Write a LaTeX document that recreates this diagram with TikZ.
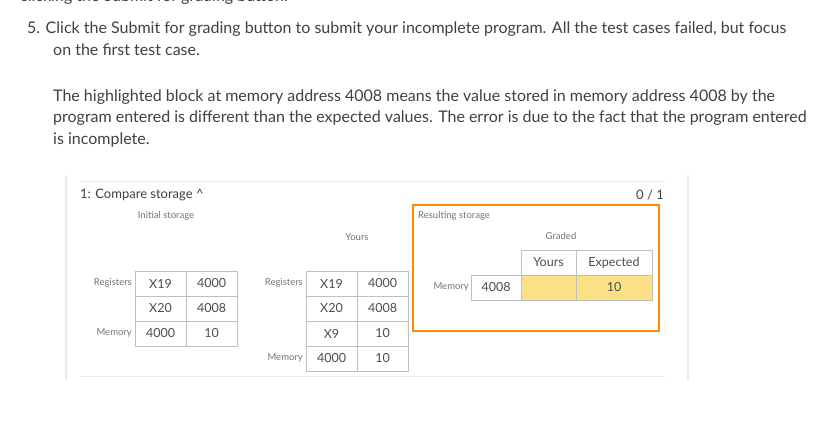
\documentclass[tikz,border=0pt]{standalone}
\usepackage{fontspec}
\setmainfont{Lato}
\begin{document}
\begin{tikzpicture}[x=1pt,y=-1pt,
  txt/.style={text=black!75, font=\fontsize{16}{18}\selectfont, anchor=west, inner sep=0},
  lbl/.style={text=black!55, font=\fontsize{9.5}{11}\selectfont, inner sep=0},
  cell/.style={draw=black!25, line width=0.8pt, minimum height=25pt, inner sep=0, text=black!70, font=\fontsize{12.5}{14}\selectfont},
  c51/.style={cell, minimum width=51pt},
  hl/.style={fill=yellow!55!orange!45}]
\useasboundingbox (0,0) rectangle (820,422);
\clip (0,0) rectangle (820,422);
\node[txt] (t0) at (20,-3) {clicking the Submit for grading button.};
\node[txt] (t1) at (27,29) {5. Click the Submit for grading button to submit your incomplete program. All the test cases failed, but focus};
\node[txt] (t2) at (53,50) {on the first test case.};
\node[txt] (t3) at (53,97) {The highlighted block at memory address 4008 means the value stored in memory address 4008 by the};
\node[txt] (t4) at (53,118) {program entered is different than the expected values. The error is due to the fact that the program entered};
\node[txt] (t5) at (53,140) {is incomplete.};
% card
\draw[black!8, line width=1.5pt] (66,175) -- (66,380);
\draw[black!8, line width=1.5pt] (688,175) -- (688,380);
\draw[black!8] (80,181) -- (665,181);
\draw[black!8] (80,376) -- (665,376);
\node[txt, font=\fontsize{13}{15}\selectfont] (h) at (80,195) {1: Compare storage \^{}};
\node[txt, anchor=east, font=\fontsize{13}{15}\selectfont] (sc) at (664,195) {0 / 1};
\node[lbl] (is) at (166,216) {Initial storage};
% table 1
\foreach \r/\a/\b in {0/X19/4000,1/X20/4008,2/4000/10}{
  \node[c51] (a\r1) at (160.5,283.5+25*\r) {\a};
  \node[c51] (a\r2) at (211.5,283.5+25*\r) {\b};
}
\node[lbl, anchor=east] (r1) at (132,283) {Registers};
\node[lbl, anchor=east] (m1) at (132,333) {Memory};
% table 2
\node[lbl] (y2) at (357,237) {Yours};
\foreach \r/\a/\b in {0/X19/4000,1/X20/4008,2/X9/10,3/4000/10}{
  \node[c51] (b\r1) at (331.5,283.5+25*\r) {\a};
  \node[c51] (b\r2) at (382.5,283.5+25*\r) {\b};
}
\node[lbl, anchor=east] (r2) at (303,283) {Registers};
\node[lbl, anchor=east] (m2) at (303,358) {Memory};
% resulting
\draw[orange!90!yellow, line width=2.5pt] (413,205) rectangle (659,331);
\node[lbl, anchor=west] (rs) at (418,216) {Resulting storage};
\node[lbl] (gr) at (561,236) {Graded};
\node[cell, minimum width=55pt] (hy) at (548.5,262.5) {Yours};
\node[cell, minimum width=76pt] (he) at (614,262.5) {Expected};
\node[cell, minimum width=50pt] (d0) at (496,287.5) {4008};
\node[cell, hl, minimum width=55pt] (d1) at (548.5,287.5) {};
\node[cell, hl, minimum width=76pt] (d2) at (614,287.5) {10};
\node[lbl, anchor=east] (m3) at (469,287) {Memory};
\end{tikzpicture}
\end{document}
